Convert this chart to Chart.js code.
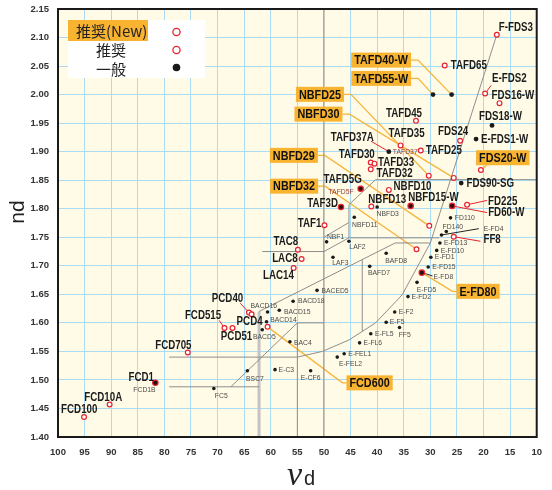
<!DOCTYPE html>
<html>
<head>
<meta charset="utf-8">
<script src="https://cdn.jsdelivr.net/npm/chart.js@4.4.1/dist/chart.umd.min.js"></script>
<style>
  html, body { margin: 0; padding: 0; background: #fff; }
  #wrap { width: 552px; height: 490px; }
</style>
</head>
<body>
<div id="wrap"><canvas id="glassMap" width="552" height="490"></canvas></div>
<script>
// axis ticks
const vdTicks = [100, 95, 90, 85, 80, 75, 70, 65, 60, 55, 50, 45, 40, 35, 30, 25, 20, 15, 10];
const ndTicks = [1.40, 1.45, 1.50, 1.55, 1.60, 1.65, 1.70, 1.75, 1.80, 1.85, 1.90, 1.95, 2.00, 2.05, 2.10, 2.15];

// 推奨(New) - open circles with boxed names
const newNames = ['NBFD25', 'NBFD30', 'NBFD29', 'NBFD32', 'FDS20-W', 'FCD600'];
const newVd = [30.3, 25.6, 30.2, 32.6, 20.5, 60.6];
const newNd = [1.858, 1.854, 1.770, 1.729, 1.868, 1.593];

// 推奨 - open circles
const recNames = ['F-FDS3', 'TAFD65', 'E-FDS2', 'FDS16-W', 'TAFD45', 'FDS24', 'TAFD35', 'TAFD25', 'TAFD30', 'TAFD33',
  'TAFD32', 'NBFD10', 'FD225', 'NBFD13', 'TAF1', 'FF8', 'TAC8', 'LAC8', 'LAC14', 'PCD40',
  'PCD4', 'FCD515', 'PCD51', 'FCD705', 'FCD10A', 'FCD100'];
const recVd = [17.5, 27.3, 19.7, 17.0, 32.7, 24.4, 35.6, 31.8, 41.2, 40.5,
  41.2, 37.8, 23.1, 41.1, 49.9, 25.6, 54.9, 54.2, 55.7, 64.1,
  63.6, 68.7, 67.2, 75.6, 90.3, 95.1];
const recNd = [2.105, 2.051, 2.002, 1.985, 1.954, 1.919, 1.911, 1.902, 1.881, 1.879,
  1.869, 1.833, 1.807, 1.804, 1.771, 1.751, 1.728, 1.712, 1.696, 1.618,
  1.615, 1.591, 1.591, 1.548, 1.457, 1.435];

// filled points with red ring
const ringNames = ['TAFD5G', 'TAF3D', 'NBFD15-W', 'FD60-W', 'E-FD8', 'FCD1'];
const ringVd = [43.1, 46.8, 33.7, 25.9, 31.6, 81.7];
const ringNd = [1.835, 1.803, 1.805, 1.805, 1.688, 1.495];

// 一般 - larger dots
const dotNames = ['TAFD40-W', 'TAFD55-W', 'FDS18-W', 'E-FDS1-W', 'TAFD37', 'FDS90-SG'];
const dotVd = [26.0, 29.5, 18.4, 21.4, 37.8, 24.2];
const dotNd = [2.000, 2.000, 1.946, 1.922, 1.900, 1.845];

// 一般 - small dots
const minorNames = ['NBFD3', 'NBFD11', 'FD110', 'FD140', 'E-FD4', 'NBF1', 'LAF2', 'E-FD13', 'E-FD10', 'BAFD8',
  'LAF3', 'E-FD1', 'BAFD7', 'E-FD15', 'E-FD5', 'BACED5', 'E-FD2', 'BACD18', 'BACD15', 'BACD16',
  'E-F2', 'BACD14', 'E-F5', 'FF5', 'BACD5', 'E-FL5', 'BAC4', 'E-FL6', 'E-FEL1', 'E-FEL2',
  'E-C3', 'BSC7', 'E-CF6', 'FC5'];
const minorVd = [40.0, 44.3, 26.2, 27.0, 27.9, 49.5, 45.3, 28.2, 28.8, 38.3,
  48.3, 29.9, 41.4, 30.4, 32.5, 51.3, 34.2, 55.8, 58.4, 60.6,
  36.7, 60.8, 38.3, 35.8, 61.6, 41.2, 56.4, 43.3, 46.2, 47.5,
  59.2, 64.4, 52.5, 70.7];
const minorNd = [1.803, 1.785, 1.784, 1.760, 1.754, 1.742, 1.743, 1.740, 1.727, 1.722,
  1.715, 1.715, 1.699, 1.698, 1.671, 1.657, 1.646, 1.638, 1.622, 1.619,
  1.619, 1.602, 1.601, 1.592, 1.588, 1.581, 1.567, 1.565, 1.546, 1.540,
  1.518, 1.516, 1.516, 1.485];

// glass region boundaries
const thickLineVd = [62.2, 62.2];
const thickLineNd = [1.40, 1.620];
const regionLines = [
  { vd: [62.2, 36.6, 30.0], nd: [1.620, 1.740, 1.740] },
  { vd: [79.1, 55.0, 50.3, 45.3, 40.3, 35.3, 30.0, 17.5], nd: [1.540, 1.540, 1.550, 1.570, 1.600, 1.649, 1.740, 2.105] },
  { vd: [50, 50], nd: [1.40, 2.15] },
  { vd: [55, 55, 50], nd: [1.40, 1.60, 1.60] },
  { vd: [67.5, 55], nd: [1.488, 1.60] },
  { vd: [79.1, 62.2], nd: [1.488, 1.488] },
  { vd: [42.8, 42.8], nd: [1.585, 1.711] },
  { vd: [61.6, 50, 45.3, 28.3], nd: [1.725, 1.725, 1.749, 1.749] },
  { vd: [50, 45.3], nd: [1.750, 1.776] },
  { vd: [45.3, 45.3, 40.3, 10], nd: [1.749, 1.807, 1.851, 1.851] }
];

// label placement: [text, point, dx, dy, align, kind, leader, leaderEnd]
const labelLayout = [
  ['F-FDS3', 'F-FDS3', 2, -7, 'l', 'big'],
  ['TAFD65', 'TAFD65', 6, 0, 'l', 'big'],
  ['E-FDS2', 'E-FDS2', 7, -15, 'l', 'big', 'red', [-1, 7]],
  ['FDS16-W', 'FDS16-W', -8, -8, 'l', 'big'],
  ['FDS18-W', 'FDS18-W', -13, -9, 'l', 'big'],
  ['E-FDS1-W', 'E-FDS1-W', 5, 0, 'l', 'big'],
  ['FDS24', 'FDS24', -7, -9, 'c', 'big'],
  ['TAFD45', 'TAFD45', -12, -7, 'c', 'big'],
  ['TAFD35', 'TAFD35', 6, -11.5, 'c', 'big'],
  ['TAFD25', 'TAFD25', 5, 0, 'l', 'big'],
  ['TAFD37A', 'TAFD37', -15, -14.6, 'r', 'big', 'red', [-3, 4]],
  ['TAFD37', 'TAFD37', 4, 0.5, 'l', 'smallRed'],
  ['TAFD30', 'TAFD30', 4, -8, 'r', 'big'],
  ['TAFD33', 'TAFD33', 3.5, -1, 'l', 'big'],
  ['TAFD32', 'TAFD32', 5.7, 3.8, 'l', 'big'],
  ['TAFD5G', 'TAFD5G', -18, -9.3, 'c', 'big'],
  ['TAFD5F', 'TAFD5G', -7, 3.4, 'r', 'smallRed'],
  ['TAF3D', 'TAF3D', -3, -3, 'r', 'big'],
  ['TAF1', 'TAF1', -3, -1.4, 'r', 'big'],
  ['NBFD10', 'NBFD10', 4.7, -3.6, 'l', 'big'],
  ['NBFD13', 'NBFD13', -3, -6.5, 'l', 'big'],
  ['NBFD3', 'NBFD3', -0.6, 7, 'l', 'small'],
  ['NBFD15-W', 'NBFD15-W', -2.4, -8.7, 'l', 'big'],
  ['FDS90-SG', 'FDS90-SG', 5.3, 0.7, 'l', 'big'],
  ['FD225', 'FD225', 21, -3.3, 'l', 'big', 'red', [-1, -1]],
  ['FD60-W', 'FD60-W', 36, 6.7, 'l', 'big', 'red', [-1, 0]],
  ['FD110', 'FD110', 4.3, 0, 'l', 'small'],
  ['FD140', 'FD140', -3.7, -5, 'l', 'small'],
  ['E-FD4', 'E-FD4', 42.3, -6.3, 'l', 'small', 'black', [-5, 0]],
  ['FF8', 'FF8', 29.7, 3.3, 'l', 'big', 'red', [-3, 1.3]],
  ['E-FD13', 'E-FD13', 4, 0, 'l', 'small'],
  ['E-FD10', 'E-FD10', 4, 0, 'l', 'small'],
  ['E-FD1', 'E-FD1', 4, 0, 'l', 'small'],
  ['E-FD15', 'E-FD15', 4, 0, 'l', 'small'],
  ['E-FD8', 'E-FD8', 11.7, 4.3, 'l', 'small', 'black', [-1, -1]],
  ['E-FD5', 'E-FD5', -0.3, 7, 'l', 'small'],
  ['E-FD2', 'E-FD2', 3.4, 0, 'l', 'small'],
  ['E-F2', 'E-F2', 4, 0, 'l', 'small'],
  ['E-F5', 'E-F5', 3.5, 0, 'l', 'small'],
  ['FF5', 'FF5', -0.8, 7, 'l', 'small'],
  ['BAFD8', 'BAFD8', -1, 7.4, 'l', 'small'],
  ['LAF3', 'LAF3', -0.7, 6, 'l', 'small'],
  ['BAFD7', 'BAFD7', -1.7, 6.6, 'l', 'small'],
  ['NBF1', 'NBF1', 0.3, -5.3, 'l', 'small'],
  ['LAF2', 'LAF2', 0.4, 6, 'l', 'small'],
  ['NBFD11', 'NBFD11', -2.3, 7.3, 'l', 'small'],
  ['BACED5', 'BACED5', 4.4, 0, 'l', 'small'],
  ['BACD18', 'BACD18', 5, 0, 'l', 'small'],
  ['BACD15', 'BACD15', 4.7, 1, 'l', 'small'],
  ['BACD16', 'BACD16', -17, -6.3, 'l', 'small'],
  ['BACD14', 'BACD14', 3.7, -1.7, 'l', 'small'],
  ['BACD5', 'BACD5', -9.2, 7, 'l', 'small'],
  ['BAC4', 'BAC4', 4, 0.6, 'l', 'small'],
  ['E-FL5', 'E-FL5', 4.3, 0, 'l', 'small'],
  ['E-FL6', 'E-FL6', 4, 0, 'l', 'small'],
  ['E-FEL1', 'E-FEL1', 4, 0, 'l', 'small'],
  ['E-FEL2', 'E-FEL2', 1.7, 7, 'l', 'small'],
  ['E-CF6', 'E-CF6', 0, 7.3, 'c', 'small'],
  ['E-C3', 'E-C3', 3.6, 0, 'l', 'small'],
  ['BSC7', 'BSC7', -1.3, 7.7, 'l', 'small'],
  ['FC5', 'FC5', 1, 7.4, 'l', 'small'],
  ['FCD1', 'FCD1', -1.4, -5.4, 'r', 'big'],
  ['FCD1B', 'FCD1', 0.3, 6.6, 'r', 'small'],
  ['FCD705', 'FCD705', 3.7, -7, 'r', 'big'],
  ['FCD10A', 'FCD10A', -6.3, -7, 'c', 'big'],
  ['FCD100', 'FCD100', -4.8, -7.3, 'c', 'big'],
  ['FCD515', 'FCD515', -3.3, -12.6, 'r', 'big', 'red', [-2, 5]],
  ['PCD51', 'PCD51', -11.6, 8.4, 'l', 'big'],
  ['PCD40', 'PCD40', -5.7, -14, 'r', 'big', 'red', [-3, 4.6]],
  ['PCD4', 'PCD4', 11, 7.7, 'r', 'big'],
  ['TAC8', 'TAC8', 0.3, -8, 'r', 'big'],
  ['LAC8', 'LAC8', -4, -0.3, 'r', 'big'],
  ['LAC14', 'LAC14', 0.3, 7.4, 'r', 'big'],
  ['TAFD40-W', 'TAFD40-W', -70.5, -34.5, 'c', 'box', 'orange'],
  ['TAFD55-W', 'TAFD55-W', -51.8, -16.2, 'c', 'box', 'orange'],
  ['NBFD25', 'NBFD25', -108.8, -81.3, 'c', 'box', 'orange'],
  ['NBFD30', 'NBFD30', -135.3, -63.8, 'c', 'box', 'orange'],
  ['NBFD29', 'NBFD29', -135.4, -70.5, 'c', 'box', 'orange'],
  ['NBFD32', 'NBFD32', -122.4, -63.1, 'c', 'box', 'orange'],
  ['FDS20-W', 'FDS20-W', 21.9, -12.2, 'c', 'box', 'orange'],
  ['E-FD80', 'E-FD8', 56.2, 18.7, 'c', 'box', 'orange'],
  ['FCD600', 'FCD600', 102, 56, 'c', 'box', 'orange']
];

const RED = '#e8232e';
const ORANGE = '#f8b331';
const labelFonts = {
  big: { font: 'bold 12.5px "Liberation Sans"', color: '#1b1b1b', sx: 0.78 },
  small: { font: '8px "Liberation Sans"', color: '#4b4b4b', sx: 0.85 },
  smallRed: { font: '8px "Liberation Sans"', color: '#8d3a3a', sx: 0.85 },
  box: { font: 'bold 13.5px "Liberation Sans"', color: '#111', sx: 0.8 }
};
const leaderColors = { red: RED, black: '#222', orange: '#f6b43c' };

const pointIndex = {};
[[newNames, newVd, newNd], [recNames, recVd, recNd], [ringNames, ringVd, ringNd],
 [dotNames, dotVd, dotNd], [minorNames, minorVd, minorNd]].forEach(([n, v, d]) => {
  n.forEach((name, i) => { pointIndex[name] = [v[i], d[i]]; });
});

const toPts = (vd, nd) => vd.map((v, i) => ({ x: v, y: nd[i] }));

function anchorPx(chart, id) {
  const p = pointIndex[id];
  return [chart.scales.x.getPixelForValue(p[0]), chart.scales.y.getPixelForValue(p[1])];
}

function drawText(ctx, text, x, y, align, f) {
  ctx.save();
  ctx.font = f.font;
  ctx.fillStyle = f.color;
  ctx.textBaseline = 'middle';
  ctx.textAlign = align === 'l' ? 'left' : align === 'r' ? 'right' : 'center';
  ctx.translate(x, y);
  ctx.scale(f.sx, 1);
  ctx.fillText(text, 0, 0);
  ctx.restore();
}

function boxWidth(ctx, text) {
  ctx.font = labelFonts.box.font;
  return ctx.measureText(text).width * labelFonts.box.sx + 6;
}

const labelPlugin = {
  id: 'glassLabels',
  beforeDraw(chart) {
    const { ctx, chartArea: a } = chart;
    ctx.save();
    ctx.fillStyle = '#fff';
    ctx.fillRect(0, 0, chart.width, chart.height);
    ctx.fillStyle = '#fffbe6';
    ctx.fillRect(a.left, a.top, a.right - a.left, a.bottom - a.top);
    ctx.restore();
  },
  beforeDatasetsDraw(chart) {
    const ctx = chart.ctx;
    ctx.save();
    labelLayout.forEach(([text, id, dx, dy, align, kind, leader, end]) => {
      if (!leader) return;
      const [px, py] = anchorPx(chart, id);
      const tx = px + dx, ty = py + dy;
      ctx.beginPath();
      ctx.moveTo(px, py);
      if (kind === 'box') {
        const w = boxWidth(ctx, text), h = 15;
        if (px > tx + w / 2) {
          ctx.lineTo(tx + w / 2 + 7, ty);
          ctx.lineTo(tx + w / 2, ty);
        } else if (px < tx - w / 2) {
          ctx.lineTo(tx - w / 2 - 4, ty);
          ctx.lineTo(tx - w / 2, ty);
        } else {
          ctx.lineTo(px + 6, ty + h / 2);
        }
      } else {
        const e = end || [align === 'r' ? 2 : -2, 0];
        ctx.lineTo(tx + e[0], ty + e[1]);
      }
      ctx.strokeStyle = leaderColors[leader];
      ctx.lineWidth = leader === 'orange' ? 1.3 : 1;
      ctx.stroke();
    });
    ctx.restore();
  },
  afterDatasetsDraw(chart) {
    const ctx = chart.ctx;
    labelLayout.forEach(([text, id, dx, dy, align, kind]) => {
      const [px, py] = anchorPx(chart, id);
      const tx = px + dx, ty = py + dy;
      if (kind === 'box') {
        const w = boxWidth(ctx, text), h = 15;
        ctx.fillStyle = ORANGE;
        ctx.fillRect(tx - w / 2, ty - h / 2, w, h);
        drawText(ctx, text, tx, ty + 0.5, 'c', labelFonts.box);
      } else {
        drawText(ctx, text, tx, ty, align, labelFonts[kind]);
      }
    });
  },
  afterDraw(chart) {
    const { ctx, chartArea: a } = chart;
    ctx.save();
    // frame
    ctx.strokeStyle = '#1a1a1a';
    ctx.lineWidth = 2;
    ctx.strokeRect(a.left, a.top, a.right - a.left, a.bottom - a.top);

    // legend
    ctx.fillStyle = '#fff';
    ctx.fillRect(68, 20, 137, 58);
    ctx.fillStyle = ORANGE;
    ctx.fillRect(68, 20, 80, 21);
    ctx.fillStyle = '#222';
    ctx.font = '15px "Noto Sans CJK JP"';
    ctx.textBaseline = 'middle';
    ctx.textAlign = 'left';
    ctx.fillText('推奨(New)', 76, 31);
    ctx.textAlign = 'center';
    ctx.fillText('推奨', 111, 50.5);
    ctx.fillText('一般', 111, 69);
    ctx.strokeStyle = RED;
    ctx.lineWidth = 1.3;
    [32, 50].forEach(y => {
      ctx.beginPath();
      ctx.arc(176.5, y, 3.6, 0, Math.PI * 2);
      ctx.fillStyle = '#fff';
      ctx.fill();
      ctx.stroke();
    });
    ctx.beginPath();
    ctx.arc(176.5, 67.5, 3.8, 0, Math.PI * 2);
    ctx.fillStyle = '#1a1a1a';
    ctx.fill();

    // axis titles
    ctx.fillStyle = '#222';
    ctx.textAlign = 'left';
    ctx.textBaseline = 'alphabetic';
    ctx.font = 'italic 34px "Liberation Serif"';
    ctx.fillText('ν', 287, 485);
    ctx.font = '20px "Liberation Sans"';
    ctx.fillText('d', 304, 485);

    ctx.translate(24, 212);
    ctx.rotate(-Math.PI / 2);
    ctx.textAlign = 'center';
    ctx.font = '21px "Liberation Sans"';
    ctx.fillText('nd', 0, 0);
    ctx.restore();
  }
};

const lineSets = regionLines.map(l => ({
  data: toPts(l.vd, l.nd),
  showLine: true,
  borderColor: '#8e8e8e',
  borderWidth: 1,
  pointRadius: 0,
  order: 10
}));
lineSets.push({
  data: toPts(thickLineVd, thickLineNd),
  showLine: true,
  borderColor: '#c3c3c3',
  borderWidth: 3,
  pointRadius: 0,
  order: 11
});

const tickFont = { family: '"Liberation Sans"', size: 9.5, weight: 'bold' };

new Chart(document.getElementById('glassMap'), {
  type: 'scatter',
  data: {
    datasets: [
      ...lineSets,
      { label: '一般', data: toPts(minorVd, minorNd), pointRadius: 1.8, pointBackgroundColor: '#1a1a1a', pointBorderWidth: 0, order: 3 },
      { label: '一般', data: toPts(dotVd, dotNd), pointRadius: 2.4, pointBackgroundColor: '#1a1a1a', pointBorderWidth: 0, order: 2 },
      { label: '一般', data: toPts(ringVd, ringNd), pointRadius: 2.7, pointBackgroundColor: '#2a0c0c', pointBorderColor: RED, pointBorderWidth: 1.2, order: 1 },
      { label: '推奨', data: toPts(recVd, recNd), pointRadius: 2.4, pointBackgroundColor: '#fff', pointBorderColor: RED, pointBorderWidth: 1.2, order: 0 },
      { label: '推奨(New)', data: toPts(newVd, newNd), pointRadius: 2.4, pointBackgroundColor: '#fff', pointBorderColor: RED, pointBorderWidth: 1.2, order: 0 }
    ]
  },
  options: {
    responsive: false,
    animation: false,
    devicePixelRatio: 1,
    events: [],
    layout: { padding: { top: 9, right: 14, left: 0, bottom: 0 } },
    plugins: { legend: { display: false }, tooltip: { enabled: false } },
    scales: {
      x: {
        type: 'linear',
        min: 10,
        max: 100,
        reverse: true,
        afterBuildTicks: s => { s.ticks = vdTicks.map(v => ({ value: v })); },
        afterFit: s => { s.height = 53; },
        grid: { color: '#a9dcf4', lineWidth: 1, drawTicks: false },
        border: { display: false },
        ticks: { font: tickFont, color: '#333', padding: 10, maxRotation: 0, autoSkip: false, callback: v => String(v) }
      },
      y: {
        type: 'linear',
        min: 1.40,
        max: 2.15,
        afterBuildTicks: s => { s.ticks = ndTicks.map(v => ({ value: v })); },
        afterFit: s => { s.width = 58; s.paddingTop = 5; s.paddingBottom = 5; },
        grid: { color: '#a9dcf4', lineWidth: 1, drawTicks: false },
        border: { display: false },
        ticks: { font: tickFont, color: '#333', padding: 9, autoSkip: false, callback: v => Number(v).toFixed(2) }
      }
    }
  },
  plugins: [labelPlugin]
});
</script>
</body>
</html>
